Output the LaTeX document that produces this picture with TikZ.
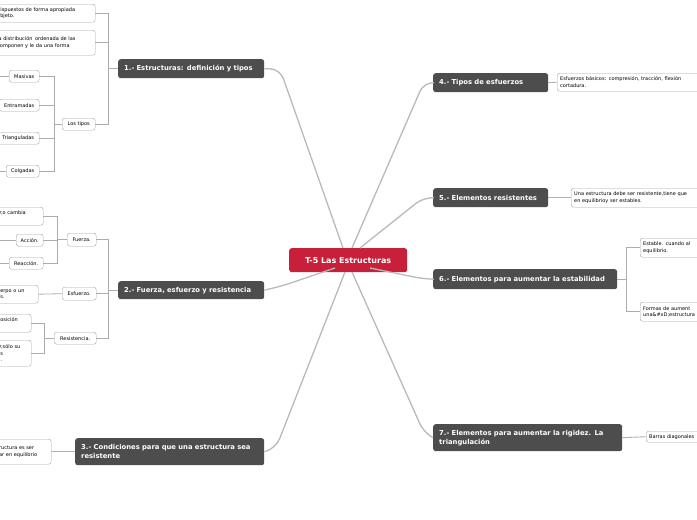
\documentclass[tikz,border=0pt]{standalone}
\usepackage{fontspec}
\setmainfont{DejaVu Sans}
\newcommand\nohyph{\hyphenpenalty 10000 \exhyphenpenalty 10000 }
\begin{document}
\begin{tikzpicture}[x=1pt,y=-1pt,
  mainb/.style={fill=dk, text=white, rounded corners=2.5pt, font={\bfseries\fontsize{6.8}{9}\selectfont\nohyph}, align=left, inner xsep=6pt, inner ysep=0pt, anchor=north west},
  subb/.style={draw=gray!70, fill=white, rounded corners=2.5pt, font={\fontsize{5}{6.5}\selectfont\nohyph}, align=left, inner xsep=3pt, inner ysep=0pt, anchor=north west},
  br/.style={draw=gray!60, line width=0.9pt},
  trunk/.style={draw=gray!55, line width=1.3pt, rounded corners=10pt},
  fork/.style={draw=gray!65, line width=0.8pt}]
\definecolor{dk}{HTML}{4D4D4D}
\definecolor{rd}{HTML}{C8203A}
\useasboundingbox (0,0) rectangle (697,520);
\clip (0,0) rectangle (697,520);
% central
\node[fill=rd, text=white, rounded corners=2.5pt, font=\bfseries\fontsize{8}{9}\selectfont, minimum width=118pt, minimum height=24pt, anchor=north west] (c) at (289,248) {T-5 Las Estructuras};
% main nodes
\node[mainb, text width=134pt, minimum height=19pt] (n1) at (118,59) {1.- Estructuras: definición y tipos};
\node[mainb, text width=134pt, minimum height=18pt] (n2) at (118,281) {2.- Fuerza, esfuerzo y resistencia};
\node[mainb, text width=177pt, minimum height=27pt] (n3) at (75,438) {3.- Condiciones para que una estructura sea\\resistente};
\node[mainb, text width=103pt, minimum height=19pt] (n4) at (433,73) {4.- Tipos de esfuerzos};
\node[mainb, text width=103pt, minimum height=19pt] (n5) at (433,188) {5.- Elementos resistentes};
\node[mainb, text width=172pt, minimum height=20pt] (n6) at (433,269) {6.- Elementos para aumentar la estabilidad};
\node[mainb, text width=177pt, minimum height=27pt] (n7) at (433,424) {7.- Elementos para aumentar la rigidez. La\\triangulación};
% trunks
\draw[trunk] (343,248) -- (280,69) -- (n1.east);
\draw[trunk] (335,268) -- (282,286) -- (n2.east);
\draw[trunk] (345,272) -- (276,448) -- (n3.east);
\draw[trunk] (352,248) -- (424,82) -- (n4.west);
\draw[trunk] (360,248) -- (424,197) -- (n5.west);
\draw[trunk] (370,268) -- (424,279) -- (n6.west);
\draw[trunk] (352,272) -- (424,433) -- (n7.west);
% group 1
\node[subb, text width=95pt, minimum height=18pt] (a1) at (-6,4) {dispuestos de forma apropiada\\objeto.};
\node[subb, text width=95pt, minimum height=25pt] (a2) at (-6,30) {la distribución\, ordenada de las\\componen y le da una forma};
\node[subb, minimum height=12pt, minimum width=33pt, align=center] (lt) at (62,118) {Los tipos};
\node[subb, minimum height=12pt, minimum width=30pt, align=center] (m1) at (9,70) {Masivas};
\node[subb, minimum height=12pt, minimum width=40pt, align=center] (m2) at (-1,99) {Entramadas};
\node[subb, minimum height=12pt, minimum width=42pt, align=center] (m3) at (-3,132) {Trianguladas};
\node[subb, minimum height=12pt, minimum width=33pt, align=center] (m4) at (6,165) {Colgadas};
\foreach \t in {a1,a2,lt}{\draw[fork] (n1.west) -- ++(-10,0) |- (\t.east);}
\foreach \t in {m1,m2,m3,m4}{\draw[fork] (lt.west) -- ++(-8,0) |- (\t.east); \draw[fork] (\t.west) -- ++(-12,0);}
% group 2
\node[subb, minimum height=13pt, minimum width=29pt, align=center] (f) at (67,233) {Fuerza.};
\node[subb, minimum height=13pt, minimum width=34pt, align=center] (e) at (62,287) {Esfuerzo.};
\node[subb, minimum height=12pt, minimum width=42pt, align=center] (r) at (54,332) {Resistencia.};
\foreach \t in {f,e,r}{\draw[fork] (n2.west) -- ++(-10,0) |- (\t.east);}
\node[subb, text width=43pt, minimum height=18pt] (f1) at (-6,207) {D;o cambia\\\mbox{}};
\node[subb, minimum height=12pt, minimum width=27pt, align=center] (f2) at (16,234) {Acción.};
\node[subb, minimum height=12pt, minimum width=34pt, align=center] (f3) at (9,257) {Reacción.};
\foreach \t in {f1,f2,f3}{\draw[fork] (f.west) -- ++(-10,0) |- (\t.east);}
\draw[fork] (f2.west) -- ++(-16,0); \draw[fork] (f3.west) -- ++(-10,0);
\node[subb, text width=38pt, minimum height=18pt] (e1) at (-6,285) {uerpo o un\\as.};
\draw[fork] (e.west) -- (e1.east);
\node[subb, text width=31pt, minimum height=18pt] (r1) at (-6,314) {posición\\\mbox{}};
\node[subb, text width=31pt, minimum height=26pt] (r2) at (-6,340) {D;sólo su\\es\\\dots};
\foreach \t in {r1,r2}{\draw[fork] (r.west) -- ++(-10,0) |- (\t.east);}
% group 3
\node[subb, text width=51pt, minimum height=25pt] (g3) at (-6,439) {tructura es ser\\tar en equilibrio};
\draw[br] (n3.west) -- (g3.east);
% right side
\node[subb, text width=150pt, minimum height=18pt] (g4) at (557,73) {Esfuerzos básicos: compresión, tracción, flexión\\cortadura.};
\draw[br] (n4.east) -- (g4.west);
\node[subb, text width=140pt, minimum height=19pt] (g5) at (571,188) {Una estructura debe ser resistente,tiene que\\en equilibrioy ser estables.};
\draw[br] (n5.east) -- (g5.west);
\node[subb, text width=70pt, minimum height=19pt] (g6a) at (640,238) {Estable. cuando al\\equilibrio.};
\node[subb, text width=70pt, minimum height=19pt] (g6b) at (640,302) {Formas de aument\\una\&\#xD;estructura};
\foreach \t in {g6a,g6b}{\draw[fork] (n6.east) -- ++(9,0) |- (\t.west);}
\node[subb, text width=70pt, minimum height=11pt] (g7) at (646,431) {Barras diagonales};
\draw[br] (n7.east) -- (g7.west);
\end{tikzpicture}
\end{document}
